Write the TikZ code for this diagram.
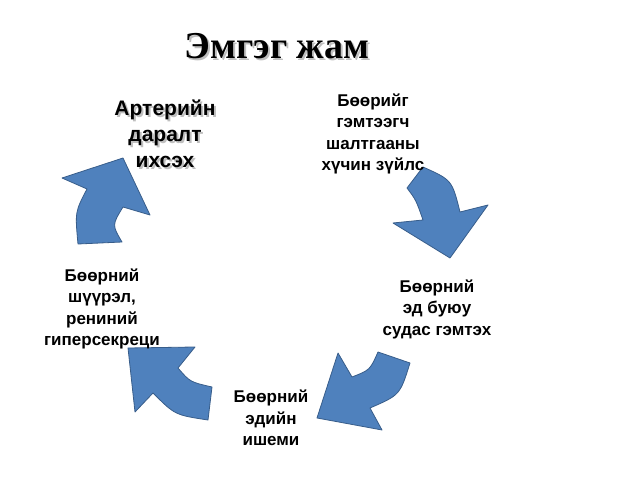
\documentclass[tikz,border=0pt]{standalone}
\usepackage{fontspec}
\setmainfont{Liberation Sans}
\newfontfamily\titlefont[BoldFont={Liberation Serif Bold}]{Liberation Serif}
\definecolor{afill}{HTML}{4F81BD}
\definecolor{aline}{HTML}{385D8A}
\begin{document}
\begin{tikzpicture}[x=1pt,y=-1pt,
  arr/.style={fill=afill,draw=aline,line width=0.8pt,line join=round},
  lbl/.style={align=center,font=\bfseries\fontsize{17}{21.5}\selectfont,inner sep=0pt}]
\useasboundingbox (0,0) rectangle (638,478);
\node[text=gray!50,font=\titlefont\bfseries\fontsize{38}{42}\selectfont] at (279,48) {Эмгэг жам};
\node (title) [font=\titlefont\bfseries\fontsize{38}{42}\selectfont] at (277,46) {Эмгэг жам};
% arrows
\draw[arr] (78,244) -- (122,242) .. controls (112,225) .. (123,207) -- (150,215) -- (123,158) -- (62,178) -- (87,189) .. controls (75,212) .. cycle;
\draw[arr] (423,167) .. controls (452,180) .. (460,212) -- (488,205) -- (450,258) -- (393,223) -- (423,220) .. controls (416,200) .. (407,188) -- cycle;
\draw[arr] (378,352) -- (410,363) .. controls (400,395) .. (370,408) -- (382,430) -- (317,418) -- (338,353) -- (352,377) .. controls (370,370) .. cycle;
\draw[arr] (195,347) -- (128,348) -- (135,412) -- (153,393) .. controls (175,415) .. (208,420) -- (212,387) .. controls (190,382) .. (178,368) -- cycle;
% labels
\node[lbl,text=gray!50,font=\bfseries\fontsize{21}{26}\selectfont] at (167,136) {Артерийн\\даралт\\ихсэх};
\node (n1) [lbl,font=\bfseries\fontsize{21}{26}\selectfont] at (165,134) {Артерийн\\даралт\\ихсэх};
\node (n2) [lbl] at (373,134) {Бөөрийг\\гэмтээгч\\шалтгааны\\хүчин зүйлс};
\node (n3) [lbl] at (437,309) {Бөөрний\\эд буюу\\судас гэмтэх};
\node (n4) [lbl] at (271,418) {Бөөрний\\эдийн\\ишеми};
\node (n5) [lbl] at (102,309) {Бөөрний\\шүүрэл,\\рениний\\гиперсекреци};
\end{tikzpicture}
\end{document}
